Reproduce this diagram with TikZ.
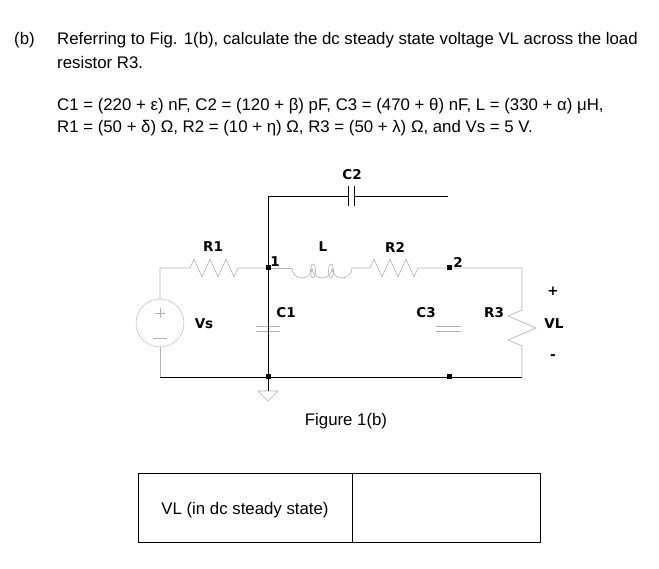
\documentclass[tikz,border=0pt]{standalone}
\usepackage{fontspec}
\setmainfont{Liberation Sans}
\newfontfamily\lab{DejaVu Sans}
\begin{document}
\begin{tikzpicture}[x=1pt,y=-1pt,
  txt/.style={anchor=west,inner sep=0,font=\fontsize{16.8}{20}\selectfont},
  lbl/.style={inner sep=0,font=\lab\bfseries\fontsize{13.5}{16}\selectfont},
  gw/.style={draw=gray!60,line width=0.6pt},
  bw/.style={draw=black,line width=0.8pt},
  dot/.style={fill=black,minimum size=5pt,inner sep=0,draw=none}]
\useasboundingbox (0,0) rectangle (659,569);
\node[txt] (t1) at (14,40) {(b)};
\node[txt] (t2) at (57,40) {Referring to Fig. 1(b), calculate the dc steady state voltage VL across the load};
\node[txt] (t3) at (57,62) {resistor R3.};
\node[txt] (t4) at (57,106) {C1 = (220 + ε) nF, C2 = (120 + β) pF, C3 = (470 + θ) nF, L = (330 + α) μH,};
\node[txt] (t5) at (57,128) {R1 = (50 + δ) Ω, R2 = (10 + η) Ω, R3 = (50 + λ) Ω, and Vs = 5 V.};
% nodes
\coordinate (n1) at (268,268); \coordinate (n2) at (449,268);
\coordinate (g) at (268,377); \coordinate (b3) at (449,377);
\coordinate (tl) at (268,196); \coordinate (tr) at (448,196);
\coordinate (bl) at (160,377); \coordinate (br) at (522,377);
\coordinate (tlft) at (160,268); \coordinate (trt) at (522,268);
\node[circle,draw=gray!60,minimum size=48pt,inner sep=0] (vs) at (160,323) {};
\draw[gray!60] (160,308) -- (160,318) (155,313) -- (165,313) (153,338) -- (167,338);
% grey wires
\draw[gw] (vs.north) -- (tlft) -- (190,268) -- (194,259) -- (202,277) -- (210,259) -- (218,277) -- (226,259) -- (234,277) -- (238,268) -- (n1);
\draw[gw] (vs.south) -- (bl);
\draw[gw] (n1) -- (292,268);
\draw[gw] (292,268) arc (180:0:10) (312,268) arc (180:0:10) (332,268) arc (180:0:10);
\draw[gw] (313,271) ellipse (2.5 and 7) (331,271) ellipse (2.5 and 7);
\draw[gw] (352,268) -- (370,268) -- (374,259) -- (382,277) -- (390,259) -- (398,277) -- (406,259) -- (414,277) -- (418,268) -- (n2);
\draw[gw] (n2) -- (trt) -- (522,310) -- (508,316) -- (536,328) -- (508,340) -- (522,346) -- (br);
\draw[gw] (256,326) -- (280,326) (256,331) -- (280,331);
\draw[gw] (436,326) -- (461,326) (436,331) -- (461,331);
\draw[gw] (258,391) -- (278,391) -- (268,401) -- cycle;
% black wires
\draw[bw] (tr) -- (354,196) (348,196) -- (tl) -- (g);
\draw[bw] (348,186) -- (348,206) (354,186) -- (354,206);
\draw[bw] (bl) -- (br);
\draw[bw] (g) -- (268,391);
\node[dot] (d1) at (n1) {}; \node[dot] (d2) at (n2) {};
\node[dot] (d3) at (g) {}; \node[dot] (d4) at (b3) {};
% labels
\node[lbl] (lc2) at (352,175) {C2};
\node[lbl] (lr1) at (213,247) {R1};
\node[lbl] (ll) at (323,247) {L};
\node[lbl] (lr2) at (395,247) {R2};
\node[lbl] (l1) at (275,262) {1};
\node[lbl] (l2) at (458,262) {2};
\node[lbl] (lc1) at (286,313) {C1};
\node[lbl] (lvs) at (204,324) {Vs};
\node[lbl] (lc3) at (426,313) {C3};
\node[lbl] (lr3) at (494,313) {R3};
\node[lbl] (lp) at (553,291) {+};
\node[lbl] (lvl) at (554,324) {VL};
\node[lbl] (lm) at (553,357) {-};
\node[inner sep=0,font=\fontsize{16.8}{20}\selectfont] (fig) at (346,421) {Figure 1(b)};
% table
\draw[line width=0.6pt] (138,473) rectangle (540,542);
\draw[line width=0.6pt] (352,473) -- (352,542);
\node[inner sep=0,font=\fontsize{16.8}{20}\selectfont] (vl) at (245,510) {VL (in dc steady state)};
\end{tikzpicture}
\end{document}
